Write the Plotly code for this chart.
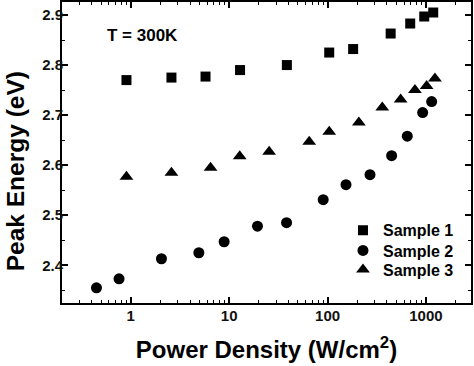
import plotly.graph_objects as go

s1_x = [0.904, 2.59, 5.75, 12.9, 38.6, 104, 182, 438, 692, 961, 1186]
s1_y = [2.770, 2.775, 2.777, 2.790, 2.800, 2.825, 2.832, 2.863, 2.883, 2.897, 2.905]

s2_x = [0.448, 0.76, 2.05, 4.92, 8.89, 19.4, 38.3, 90.3, 154, 270, 448, 646, 926, 1143]
s2_y = [2.355, 2.373, 2.413, 2.425, 2.447, 2.478, 2.485, 2.531, 2.561, 2.581, 2.619, 2.658, 2.705, 2.727]

s3_x = [0.904, 2.59, 6.47, 12.8, 25.5, 65.1, 104, 208, 360, 553, 773, 1016, 1235]
s3_y = [2.577, 2.585, 2.595, 2.618, 2.627, 2.647, 2.667, 2.685, 2.715, 2.731, 2.750, 2.758, 2.773]

names = ["Sample 1", "Sample 2", "Sample 3"]
x_ticks = [1, 10, 100, 1000]
x_tick_text = ["1", "10", "100", "1000"]
y_ticks = [2.4, 2.5, 2.6, 2.7, 2.8, 2.9]

FONT = "Liberation Sans, Arial, Helvetica, sans-serif"

fig = go.Figure()
legend_ids = ["legend", "legend2", "legend3"]
for xs, ys, nm, sym, sz, lg in [(s1_x, s1_y, names[0], "square", 10, legend_ids[0]),
                                (s2_x, s2_y, names[1], "circle", 11, legend_ids[1]),
                                (s3_x, s3_y, names[2], "triangle-up", 12, legend_ids[2])]:
    fig.add_trace(go.Scatter(x=xs, y=ys, mode="markers", name=nm, legend=lg, showlegend=True,
                             marker=dict(symbol=sym, size=sz, color="black")))

axis_common = dict(showline=True, linecolor="black", linewidth=2, mirror="allticks",
                   ticks="inside", ticklen=6, tickwidth=1.5, tickcolor="black",
                   showgrid=False, zeroline=False, automargin=False,
                   tickfont=dict(family=FONT, size=15, color="#111", weight="bold"))

fig.update_xaxes(type="log", range=[-0.699, 3.458], tickvals=x_ticks, ticktext=x_tick_text,
                 ticklabelstandoff=-2,
                 minor=dict(ticks="inside", ticklen=3, tickwidth=1.2, tickcolor="black",
                            dtick="D1", showgrid=False),
                 title=dict(text="Power Density (W/cm<sup>2</sup>)", standoff=18,
                            font=dict(family=FONT, size=24, color="black", weight="bold")),
                 **axis_common)
fig.update_yaxes(range=[2.3246, 2.926], tickvals=y_ticks, ticktext=[f"{v:.1f}" for v in y_ticks],
                 ticklabelstandoff=-6,
                 minor=dict(ticks="inside", ticklen=3, tickwidth=1.2, tickcolor="black",
                            dtick=0.05, showgrid=False),
                 **axis_common)

fig.add_annotation(text="Peak Energy (eV)", xref="paper", yref="paper", x=-0.113, y=0.437,
                   xanchor="center", yanchor="middle", textangle=-90, showarrow=False,
                   font=dict(family=FONT, size=24.5, color="black", weight="bold"))

fig.add_annotation(text="T = 300K", xref="paper", yref="paper", x=0.104, y=0.888,
                   xanchor="left", yanchor="middle", showarrow=False,
                   font=dict(family=FONT, size=17, color="black", weight="bold"))

legend_style = dict(x=0.687, xanchor="left", yanchor="middle", bgcolor="rgba(0,0,0,0)",
                    font=dict(family=FONT, size=16, color="black", weight="bold"))
fig.update_layout(width=474, height=366, margin=dict(l=62, r=3, t=2, b=63),
                  plot_bgcolor="white", paper_bgcolor="white", showlegend=True,
                  legend=dict(y=0.2416, **legend_style),
                  legend2=dict(y=0.1745, **legend_style),
                  legend3=dict(y=0.1107, **legend_style))

fig.write_html("out.html", config={"displayModeBar": False},
               post_script="document.body.style.margin='0';")
